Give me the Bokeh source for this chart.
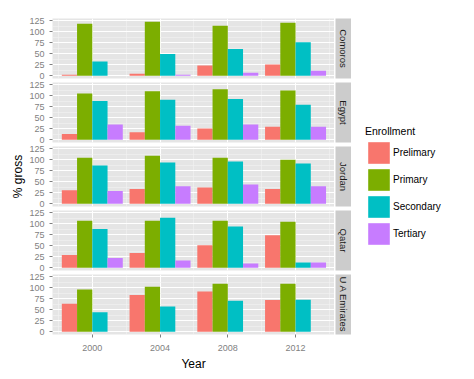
import numpy as np
from math import pi
from bokeh.plotting import figure
from bokeh.layouts import column, row
from bokeh.models import ColumnDataSource, Range1d, FixedTicker, Label, Legend, LegendItem
from bokeh.transform import dodge
from bokeh.embed import file_html
from bokeh.resources import INLINE

nan = float("nan")

# ---- data ----
years = [2000, 2004, 2008, 2012]
levels = ["Prelimary", "Primary", "Secondary", "Tertiary"]
level_colors = ["#F8766D", "#7CAE00", "#00BFC4", "#C77CFF"]
countries = ["Comoros", "Egypt", "Jordan", "Qatar", "U A Emirates"]

comoros_prelimary = [2.3, 4.5, 23.3, 25.6]
comoros_primary = [118, 122.5, 113.5, 120.5]
comoros_secondary = [32.5, 49.5, 61, 76]
comoros_tertiary = [nan, 2.3, 6.8, 11.3]

egypt_prelimary = [13, 17.5, 26, 29.5]
egypt_primary = [105, 110, 114.5, 112]
egypt_secondary = [88, 91, 92.5, 79.5]
egypt_tertiary = [35, 32, 35, 29.5]

jordan_prelimary = [31, 33.5, 37, 33.5]
jordan_primary = [104.5, 109, 104.5, 100]
jordan_secondary = [87, 94, 96, 91.5]
jordan_tertiary = [29, 40, 44, 40]

qatar_prelimary = [29, 33.5, 51, 74]
qatar_primary = [107, 107, 107, 104.5]
qatar_secondary = [88, 113.5, 94, 12]
qatar_tertiary = [22.5, 16.5, 10, 12]

uae_prelimary = [63.5, 83.5, 91.5, 72]
uae_primary = [96, 102.5, 109, 109]
uae_secondary = [44.5, 57.5, 70.5, 72.5]
uae_tertiary = [nan, nan, nan, nan]

data = {
    "Comoros": [comoros_prelimary, comoros_primary, comoros_secondary, comoros_tertiary],
    "Egypt": [egypt_prelimary, egypt_primary, egypt_secondary, egypt_tertiary],
    "Jordan": [jordan_prelimary, jordan_primary, jordan_secondary, jordan_tertiary],
    "Qatar": [qatar_prelimary, qatar_primary, qatar_secondary, qatar_tertiary],
    "U A Emirates": [uae_prelimary, uae_primary, uae_secondary, uae_tertiary],
}

y_ticks = [0, 25, 50, 75, 100, 125]
y_minor = [12.5, 37.5, 62.5, 87.5, 112.5]
x_minor = [1998, 2002, 2006, 2010, 2014]

FONT = "Liberation Sans"
BAR_W = 0.9

rows = []
for k, name in enumerate(countries):
    first = k == 0
    last = k == len(countries) - 1
    cols = {"year": years}
    for lv, vals in zip(levels, data[name]):
        cols[lv] = np.array(vals, dtype=float)
    src = ColumnDataSource(cols)

    top_border = 18 if first else 2
    p = figure(frame_width=282, frame_height=60,
               x_range=Range1d(1997.65, 2014.3), y_range=Range1d(-6, 130),
               output_backend="svg", toolbar_location=None,
               background_fill_color="#E5E5E5", border_fill_color="white",
               outline_line_color=None,
               min_border_left=52, min_border_right=0,
               min_border_top=top_border, min_border_bottom=2)
    for i, (lv, colr) in enumerate(zip(levels, level_colors)):
        p.vbar(x=dodge("year", (i - 1.5) * BAR_W), top=lv, bottom=0, width=BAR_W,
               source=src, fill_color=colr, line_color=None)

    yax = p.yaxis[0]
    yax.ticker = FixedTicker(ticks=y_ticks)
    yax.axis_line_color = None
    yax.major_tick_in = 0
    yax.major_tick_out = 3
    yax.minor_tick_in = 0
    yax.minor_tick_out = 0
    yax.major_tick_line_color = "#7F7F7F"
    yax.major_label_text_color = "#7F7F7F"
    yax.major_label_text_font = FONT
    yax.major_label_text_font_size = "9px"
    yax.major_label_standoff = 5
    if name == "Jordan":
        yax.axis_label = "% gross"
        yax.axis_label_text_font = FONT
        yax.axis_label_text_font_size = "12px"
        yax.axis_label_text_font_style = "normal"
        yax.axis_label_text_color = "black"
        yax.axis_label_standoff = 1

    p.ygrid.ticker = FixedTicker(ticks=y_ticks, minor_ticks=y_minor)
    p.ygrid.grid_line_color = "white"
    p.ygrid.grid_line_width = 1
    p.ygrid.minor_grid_line_color = "#F2F2F2"
    p.ygrid.minor_grid_line_width = 0.6
    p.xgrid.ticker = FixedTicker(ticks=years, minor_ticks=x_minor)
    p.xgrid.grid_line_color = "white"
    p.xgrid.grid_line_width = 1
    p.xgrid.minor_grid_line_color = "#F2F2F2"
    p.xgrid.minor_grid_line_width = 0.6

    xax = p.xaxis[0]
    if last:
        xax.ticker = FixedTicker(ticks=years)
        xax.axis_line_color = None
        xax.major_tick_in = 0
        xax.major_tick_out = 3
        xax.minor_tick_in = 0
        xax.minor_tick_out = 0
        xax.major_tick_line_color = "#7F7F7F"
        xax.major_label_text_color = "#7F7F7F"
        xax.major_label_text_font = FONT
        xax.major_label_text_font_size = "9px"
        xax.major_label_standoff = 7
        xax.axis_label = "Year"
        xax.axis_label_text_font = FONT
        xax.axis_label_text_font_size = "12px"
        xax.axis_label_text_font_style = "normal"
        xax.axis_label_text_color = "black"
        xax.axis_label_standoff = 3
    else:
        xax.visible = False

    s = figure(frame_width=16, frame_height=60,
               x_range=Range1d(0, 1), y_range=Range1d(0, 1),
               x_axis_type=None, y_axis_type=None,
               output_backend="svg", toolbar_location=None,
               background_fill_color="#CCCCCC", border_fill_color="white",
               outline_line_color=None,
               min_border_left=0, min_border_right=0,
               min_border_top=top_border, min_border_bottom=2)
    s.add_layout(Label(x=0.5, y=0.5, text=name, angle=-pi / 2,
                       text_align="center", text_baseline="middle",
                       text_font=FONT, text_font_size="9.5px",
                       text_color="#1A1A1A"))
    rows.append(row(p, s, spacing=1))

leg = figure(frame_width=115, frame_height=320,
             x_range=Range1d(0, 1), y_range=Range1d(0, 1),
             x_axis_type=None, y_axis_type=None,
             output_backend="svg", toolbar_location=None,
             background_fill_color="white", border_fill_color="white",
             outline_line_color=None,
             min_border_left=0, min_border_right=0,
             min_border_top=26, min_border_bottom=0)
items = []
for lv, colr in zip(levels, level_colors):
    # zero-size key renderers, only used to draw the legend swatches
    r = leg.vbar(x=[0], top=[0], bottom=[0], width=0, fill_color=colr, line_color=None)
    items.append(LegendItem(label=lv, renderers=[r]))
legend = Legend(items=items, location="left", title="Enrollment",
                glyph_width=27, glyph_height=27, label_height=22,
                label_standoff=1, spacing=-5, padding=0, margin=14,
                border_line_color=None, background_fill_alpha=0,
                label_text_font=FONT, label_text_font_size="10px",
                label_text_color="black",
                title_text_font=FONT, title_text_font_size="10.5px",
                title_text_font_style="normal", title_text_color="black",
                title_standoff=2)
leg.add_layout(legend)

layout = row(column(*rows, spacing=0), leg)

open("out.html", "w").write(file_html(layout, INLINE))
